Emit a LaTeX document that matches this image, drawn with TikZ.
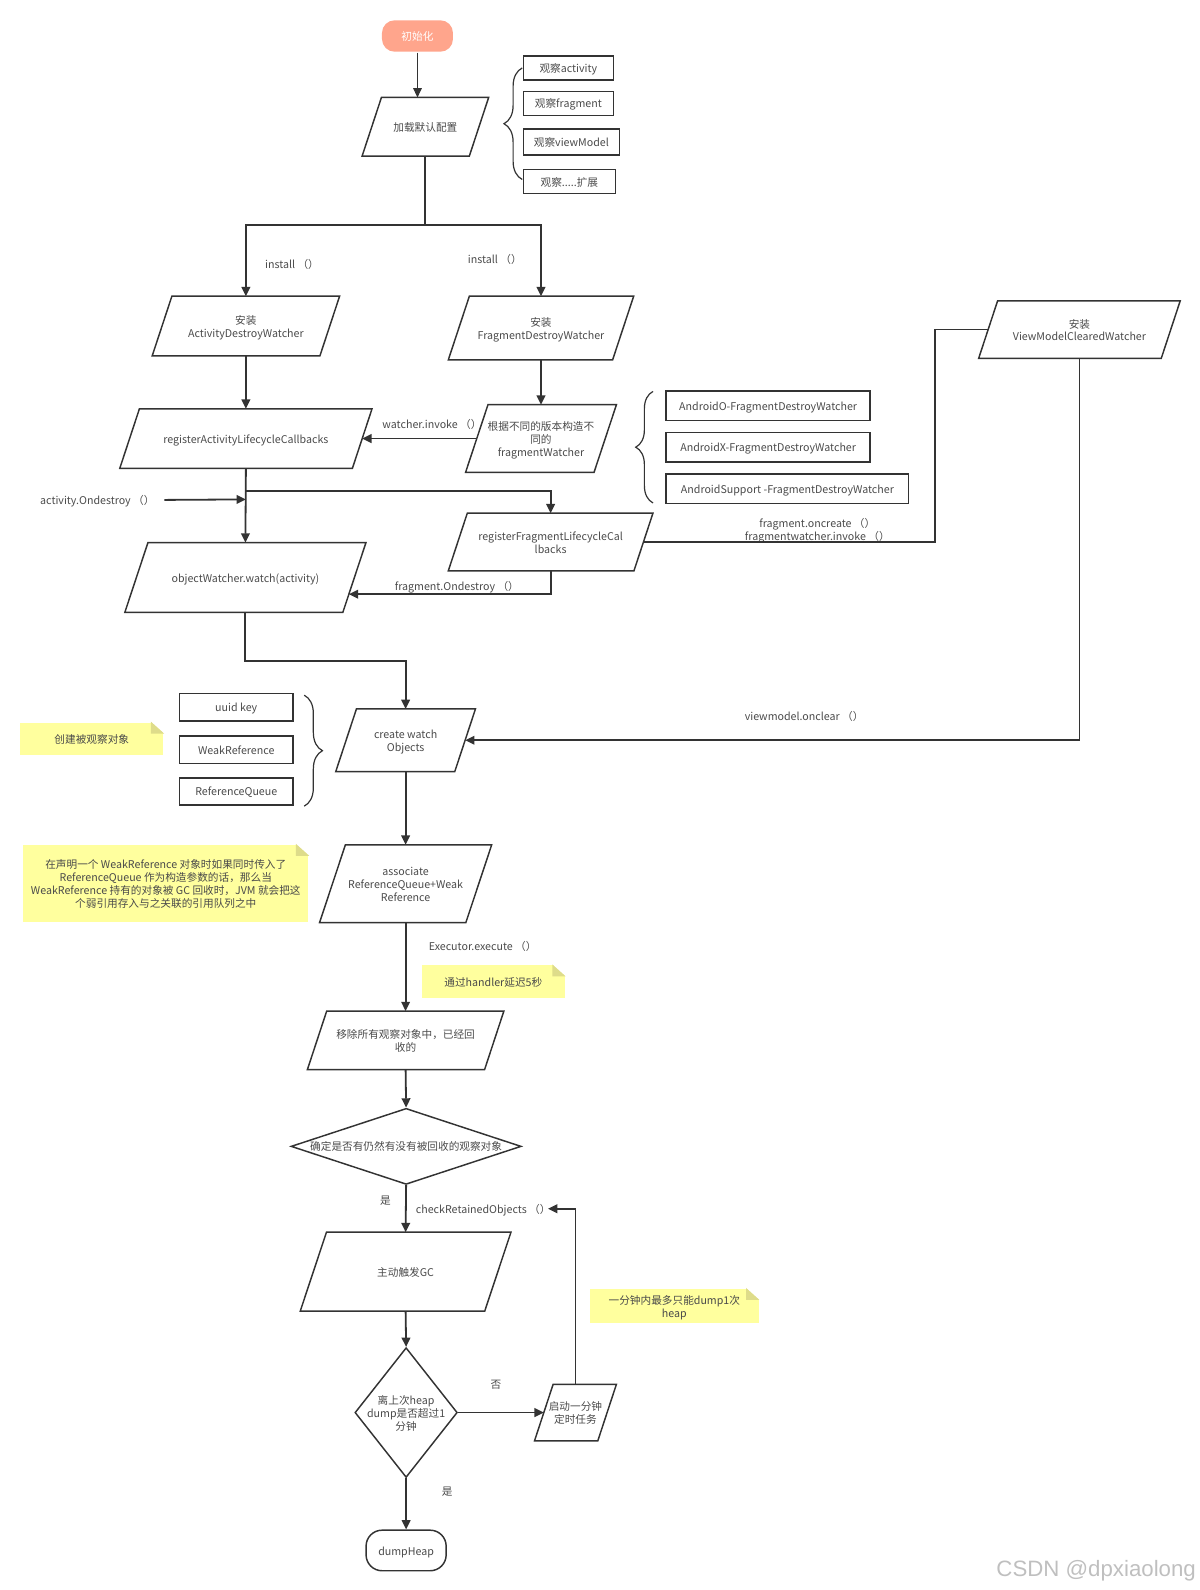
\documentclass[tikz,border=0pt]{standalone}
\usepackage{fontspec}
\setmainfont{Noto Sans CJK SC}
\newfontfamily\markfont{Liberation Sans}
\usepackage{tikz}
\usetikzlibrary{shapes.geometric,arrows.meta,decorations.pathreplacing}
\definecolor{linecol}{HTML}{333333}
\definecolor{textcol}{HTML}{4A4A4A}
\definecolor{startcol}{HTML}{FFA58C}
\definecolor{notecol}{HTML}{FFFF9E}
\definecolor{foldcol}{HTML}{DEDC8A}
\newcommand{\tightlines}[1]{\raisebox{-.3pt}[0pt][0pt]{\begin{tabular}{@{}c@{}}#1\end{tabular}}}
\newcommand{\notefold}[1]{
	\fill[white] ([xshift=-10pt]#1.north east) -- (#1.north east) -- ([yshift=-9pt]#1.north east) -- cycle;
	\fill[foldcol] ([xshift=-10pt]#1.north east) -- ([yshift=-9pt]#1.north east) -- ([xshift=-10pt,yshift=-9pt]#1.north east) -- cycle;
}
\tikzset{
	size/.style 2 args={minimum width=#1*.761pt,minimum height=#2*.761pt},
	para/.style 2 args={rectangle,inner sep=0pt,align=center,size={(#1-.34*#2)}{#2},
		append after command={\pgfextra{\draw[line width=1.1pt,draw=linecol]
			([xshift=-.17*#2*.761pt]\tikzlastnode.south west) -- ([xshift=-.17*#2*.761pt]\tikzlastnode.south east)
			-- ([xshift=.17*#2*.761pt]\tikzlastnode.north east) -- ([xshift=.17*#2*.761pt]\tikzlastnode.north west) -- cycle;}}},
	box/.style={rectangle,draw=linecol,line width=1.1pt,inner sep=0pt},
	choice/.style={diamond,draw=linecol,line width=1.1pt,inner sep=0pt,shape aspect=1.5},
	note/.style={rectangle,fill=notecol,inner sep=0pt,align=center},
	label/.style={inner sep=0pt,align=center},
	brace/.style={draw=linecol,line width=.9pt,decorate,decoration={brace,amplitude=#1}},
	every node/.append style={execute at begin node={\rule[-2pt]{0pt}{10.8pt}}},
}
\begin{document}
\begin{tikzpicture}[x=.761pt,y=-.761pt,>={Triangle[length=7pt,width=6.5pt]},font=\fontsize{8}{9.5}\selectfont,text=textcol,line width=1.35pt,draw=linecol]
	\useasboundingbox (0,0) rectangle (1183.4,1568);
	% top part
	\node[rectangle,rounded corners=9.5pt,fill=startcol,text=white,size={70}{31},inner sep=0pt] at (411.7,35.5) (init) {初始化};
	\node[para={123}{56}] at (419.5,125) (load) {加载默认配置};
	\node[box,size={89}{24}] at (560.5,67) (obsactivity) {观察activity};
	\node[box,size={89}{24}] at (560.5,102) (obsfragment) {观察fragment};
	\node[box,size={95}{26}] at (563.5,140) (obsviewmodel) {观察viewModel};
	\node[box,size={91}{24}] at (561.5,179) (obsextend) {观察.....扩展};
	\draw[brace=13.7pt] (515,177) -- (515,67);

	\node[para={183}{57}] at (242.5,321.5) (activitywatcher) {\tightlines{安装\\ActivityDestroyWatcher}};
	\node[para={181}{61}] at (533.5,323.5) (fragmentwatcher) {\tightlines{安装\\FragmentDestroyWatcher}};
	\node[para={197}{55}] at (1064.5,325) (viewmodelwatcher) {\tightlines{安装\\ViewModelClearedWatcher}};
	\coordinate (split) at (419.5,222);
	\node[label] at (288,260) (install1) {install （）};
	\node[label] at (488,255) (install2) {install （）};
	\draw (load.south) -- (split);
	\draw [->] (split) -| (activitywatcher.north);
	\draw [->] (split) -| (fragmentwatcher.north);

	% watchers
	\node[para={247}{57}] at (242.5,432.5) (registeractivity) {registerActivityLifecycleCallbacks};
	\node[para={147}{65}] at (533.5,432.5) (versions) {\tightlines{根据不同的版本构造不\\同的\\fragmentWatcher}};
	\node[box,size={201}{29}] at (757.5,400) (androido) {AndroidO-FragmentDestroyWatcher};
	\node[box,size={201}{29}] at (757.5,441) (androidx) {AndroidX-FragmentDestroyWatcher};
	\node[box,size={239}{29}] at (776.5,482) (androidsupport) {AndroidSupport -FragmentDestroyWatcher};
	\draw[brace=13pt] (644,496) -- (644,386);
	\node[label] at (426,418) (invoke) {watcher.invoke （）};
	\node[label] at (96,493) (activitydestroy) {activity.Ondestroy （）};
	\node[para={236}{67}] at (242,569.5) (objectwatcher) {objectWatcher.watch(activity)};
	\node[para={200}{55}] at (543,534.5) (registerfragment) {\tightlines{registerFragmentLifecycleCal\\lbacks}};
	\node[label] at (450.5,578) (fragmentdestroy) {fragment.Ondestroy （）};
	\node[label] at (806,522) (oncreate) {\tightlines{fragment.oncreate （）\\fragmentwatcher.invoke （）}};
	\coordinate (branch) at (242.5,484);
	\coordinate (entry) at (242.5,492.5);
	\coordinate (objentry) at (344,586);
	\coordinate (riser) at (922,325);
	\draw [->] (activitywatcher.south) -- (registeractivity.north);
	\draw [->] (fragmentwatcher.south) -- (versions.north);
	\draw [->] (versions.west) -- (registeractivity.east);
	\draw [->] (registeractivity.south) -- (objectwatcher.north);
	\draw [->] (branch) -| (registerfragment.north);
	\draw [->] ([xshift=6.7pt] activitydestroy.east) -- (entry);
	\draw [->] (registerfragment.south) |- (objentry);
	\draw (registerfragment.east) -| (riser) -- (viewmodelwatcher.west);

	% create watch objects
	\node[para={136}{60}] at (400,730) (createwatch) {\tightlines{create watch\\Objects}};
	\node[box,size={112}{27}] at (233,697.5) (uuidkey) {uuid key};
	\node[box,size={112}{27}] at (233,739.5) (weakref) {WeakReference};
	\node[box,size={112}{27}] at (233,780.5) (refqueue) {ReferenceQueue};
	\draw[brace=13.7pt] (300,685.6) -- (300,795);
	\node[note,size={141}{32}] at (90.5,728.5) (notecreate) {创建被观察对象};
	\notefold{notecreate}
	\node[note,size={281}{76}] at (163.5,871) (notequeue) {\tightlines{在声明一个 WeakReference 对象时如果同时传入了\\ReferenceQueue 作为构造参数的话，那么当\\WeakReference 持有的对象被 GC 回收时，JVM 就会把这\\个弱引用存入与之关联的引用队列之中}};
	\notefold{notequeue}
	\node[label] at (793,706) (onclear) {viewmodel.onclear （）};
	\node[para={168}{75}] at (400,871.5) (associate) {\tightlines{associate\\ReferenceQueue+Weak\\Reference}};
	\node[label] at (476,933) (execute) {Executor.execute （）};
	\node[note,size={141}{32}] at (486.5,968) (notedelay) {通过handler延迟5秒};
	\notefold{notedelay}
	\node[para={192}{56}] at (400,1026) (removeall) {\tightlines{移除所有观察对象中，已经回\\收的}};
	\coordinate (objbend) at (400,652);
	\draw [->] (objectwatcher.south) |- (objbend) -- (createwatch.north);
	\draw [->] (viewmodelwatcher.south) |- (createwatch.east);
	\draw [->] (createwatch.south) -- (associate.north);
	\draw [->] (associate.south) -- (removeall.north);

	% gc check
	\node[choice,size={227}{75}] at (400.5,1130.5) (retained) {\makebox[0pt]{确定是否有仍然有没有被回收的观察对象}};
	\node[label] at (380,1183) (yes1) {是};
	\node[label] at (476.5,1192) (check) {checkRetainedObjects （）};
	\node[para={206}{76}] at (400,1254) (triggergc) {主动触发GC};
	\node[choice,size={101}{128},shape aspect=.8] at (400.5,1393) (lastdump) {\makebox[0pt]{\tightlines{离上次heap\\dump是否超过1\\分钟}}};
	\node[para={79}{54}] at (567.5,1393) (timer) {\tightlines{启动一分钟\\定时任务}};
	\node[label] at (489,1365) (no) {否};
	\node[label] at (441,1470) (yes2) {是};
	\node[note,size={166}{34}] at (665,1288) (noteheap) {\tightlines{一分钟内最多只能dump1次\\heap}};
	\notefold{noteheap}
	\node[rectangle,rounded corners=12pt,draw=linecol,line width=1.1pt,size={79}{40},inner sep=0pt] at (400.5,1529) (dumpheap) {dumpHeap};
	\node[label,text=black!25,font=\markfont\fontsize{16.7}{18}\selectfont] at (1081,1549) (mark) {CSDN @dpxiaolong};
	\draw [->] (removeall.south) -- (retained.north);
	\draw [->] (retained.south) -- (triggergc.north);
	\draw [->] (triggergc.south) -- (lastdump.north);
	\draw [->] (lastdump.east) -- (timer.west);
	\draw [->] (lastdump.south) -- (dumpheap.north);
	\draw [->] (timer.north) |- ([xshift=-2.5pt] check.east);
	\draw [->,line width=.7pt] (init.south) -- (init.south |- load.north);
\end{tikzpicture}
\end{document}
